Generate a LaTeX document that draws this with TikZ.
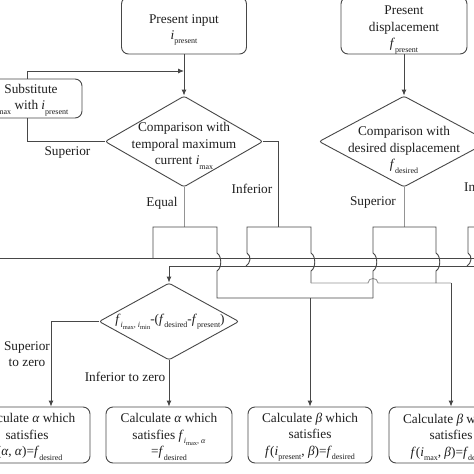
\documentclass[tikz,border=0pt]{standalone}
\usepackage{fontspec}
\setmainfont{Liberation Serif}
\usetikzlibrary{shapes.geometric,arrows.meta}
\newcommand\lsub[1]{\raisebox{-0.32em}{\fontsize{8}{8}\selectfont #1}}
\newcommand\ssub[1]{\raisebox{-0.22em}{\fontsize{6.5}{6.5}\selectfont #1}}
\begin{document}
\begin{tikzpicture}[x=1pt,y=-1pt,
  ln/.style={draw=black!72, line width=0.9pt},
  lt/.style={draw=black!42, line width=0.9pt},
  arr/.style={ln, -{Latex[length=6pt,width=5pt]}},
  box/.style={draw=black!72, line width=0.9pt, rounded corners=7pt, inner sep=0pt},
  dia/.style={draw=black!72, line width=0.9pt, diamond, inner sep=0pt, rounded corners=2.5pt},
  txt/.style={align=center, inner sep=0pt, font=\fontsize{13.3}{16.5}\selectfont, text=black!88},
]
\fill[white] (0,0) rectangle (474,474);
\useasboundingbox (0,0) rectangle (474,474);
\clip (0,0) rectangle (474,474);

% top boxes
\node[box, minimum width=125pt, minimum height=57pt] (pin) at (184,25.5) {};
\node[txt] (pinT) at (184,30) {Present input\\\textit{i}\lsub{present}};
\node[box, minimum width=126pt, minimum height=57pt] (pdis) at (404,25.5) {};
\node[txt] (pdisT) at (404,30) {Present\\displacement\\\textit{f}\lsub{present}};
\node[box, minimum width=110pt, minimum height=39pt] (sub) at (27,98.5) {};
\node[txt] (subT) at (31,100) {Substitute\\\textit{i}\lsub{max} with \textit{i}\lsub{present}};

% diamonds
\node[dia, minimum width=158pt, minimum height=91pt] (dL) at (184,141.5) {};
\node[txt] (dLT) at (184,146) {Comparison with\\temporal maximum\\current \textit{i}\lsub{max}};
\node[dia, minimum width=170pt, minimum height=91pt] (dR) at (404,141.5) {};
\node[txt] (dRT) at (404,150) {Comparison with\\desired displacement\\\textit{f}\lsub{desired}};
\node[dia, minimum width=140pt, minimum height=77pt] (dB) at (169,321.5) {};
\node[txt] (dBT) at (170,322) {\textit{f}\lsub{\textit{i}\ssub{max}, \textit{i}\ssub{min}}-(\textit{f}\lsub{desired}-\textit{f}\lsub{present})};

% bottom boxes
\node[box, minimum width=126pt, minimum height=56pt] (b1) at (27,435) {};
\node[txt] (b1T) at (27,437) {Calculate \textit{α} which\\satisfies\\\textit{f}(\textit{α}, \textit{α})=\textit{f}\lsub{desired}};
\node[box, minimum width=126pt, minimum height=56pt] (b2) at (169,435) {};
\node[txt] (b2T) at (169,437) {Calculate \textit{α} which\\satisfies \textit{f}\lsub{\textit{i}\ssub{max}, \textit{α}}\\=\textit{f}\lsub{desired}};
\node[box, minimum width=124pt, minimum height=56pt] (b3) at (310,435) {};
\node[txt] (b3T) at (310,437) {Calculate \textit{β} which\\satisfies\\\textit{f}(\textit{i}\lsub{present}, \textit{β})=\textit{f}\lsub{desired}};
\node[box, minimum width=124pt, minimum height=56pt] (b4) at (451,435) {};
\node[txt] (b4T) at (451,437) {Calculate \textit{β} which\\satisfies\\\textit{f}(\textit{i}\lsub{max}, \textit{β})=\textit{f}\lsub{desired}};

% top connectors
\coordinate (fb) at (184,71);
\draw[arr] (pin.south) -- (dL.north);
\draw[arr] (sub.north) |- (fb);
\draw[arr] (pdis.south) -- (dR.north);
\draw[ln] (dL.west) -| (sub.south);
\node[txt] (lsupL) at (67.5,153) {Superior};

% Equal bracket
\coordinate (eqT) at (184,227);
\draw[lt] (dL.south) -- (eqT);
\node[txt] (lequal) at (162,203) {Equal};
\draw[ln] (153,258.5) -- (153,227) -- (217,227) -- (217,253) .. controls +(5,3) and +(5,-3) .. (217,271) -- (217,298) -- (373,298);

% Inferior (left) bracket
\coordinate (infT) at (278,227);
\draw[ln] (dL.east) -| (infT);
\node[txt] (linfL) at (252,189) {Inferior};
\draw[ln] (246,266) .. controls +(4,-2) and +(5,3) .. (247,253) -- (247,227) -- (311,227) -- (311,253) .. controls +(5,3) and +(5,-3) .. (311,271) -- (311,283);
\draw[lt] (311,283) -- (368,283) .. controls +(0,-6) and +(0,-6) .. (378,283) -- (451,283);
\coordinate (b4in) at (451,283);
\draw[arr] (b4in) -- (b4.north);

% Superior (right) bracket
\coordinate (supT) at (404,227);
\draw[lt] (dR.south) -- (supT);
\node[txt] (lsupR) at (373,203) {Superior};
\draw[ln] (373,298) -- (373,271) .. controls +(5,-3) and +(5,3) .. (373,253) -- (373,227) -- (436,227) -- (436,253) .. controls +(5,3) and +(5,-3) .. (436,271) -- (436,283);
\coordinate (b3in) at (310,298);
\draw[arr] (b3in) -- (b3.north);

% Inferior (right) bracket
\coordinate (inf2T) at (499,227);
\draw[ln] (dR.east) -| (inf2T);
\node[txt, anchor=west] (linfR) at (464,187) {Inferior};
\draw[ln] (467,266) .. controls +(4,-2) and +(5,3) .. (468,253) -- (468,227) -- (530,227);

% bus lines
\coordinate (busA) at (0,258.5);
\coordinate (busAe) at (474,258.5);
\coordinate (busB) at (474,266);
\draw[ln] (busA) -- (busAe);
\draw[arr] (busB) -| (dB.north);

% lower diamond outputs
\draw[arr] (dB.west) -| ([xshift=24pt]b1.north);
\node[txt] (lsupz) at (27,354) {Superior\\to zero};
\draw[arr] (dB.south) -- (b2.north);
\node[txt] (linfz) at (125,377) {Inferior to zero};
\end{tikzpicture}
\end{document}
